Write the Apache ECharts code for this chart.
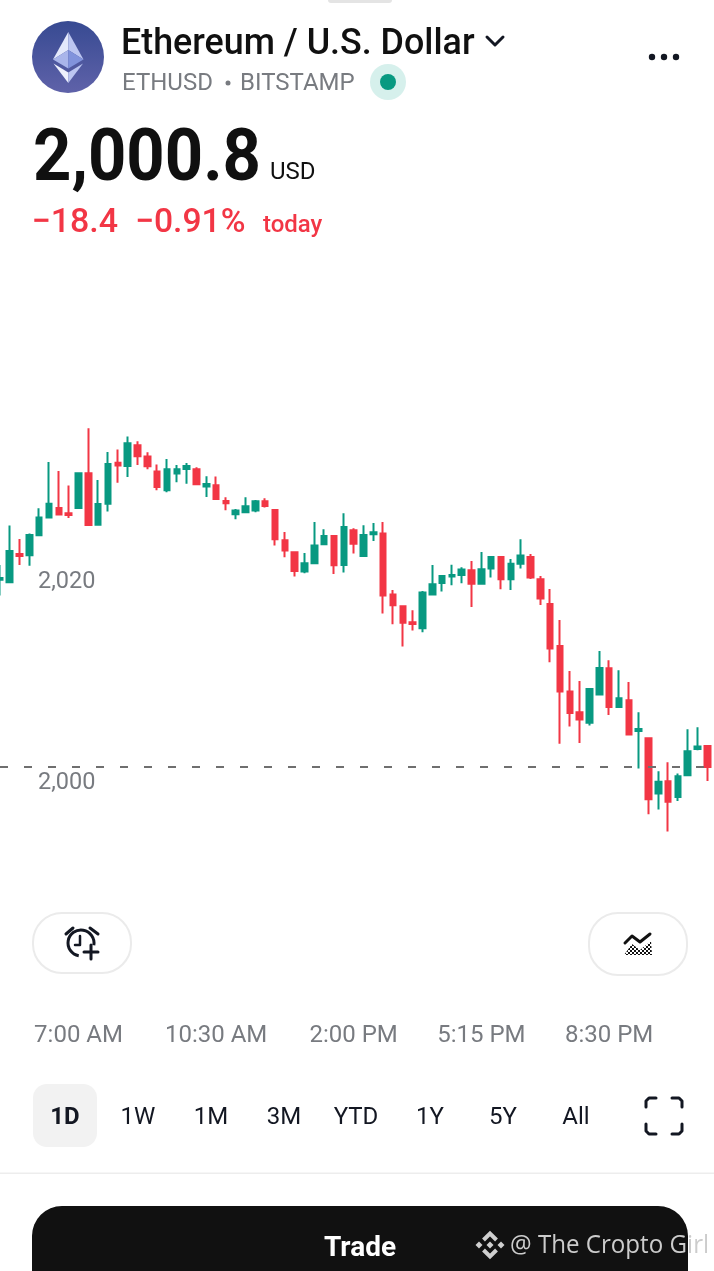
<!DOCTYPE html>
<html>
<head>
<meta charset="utf-8">
<style>html,body{margin:0;padding:0;background:#fff}#c{width:714px;height:1271px}</style>
<script src="https://cdn.jsdelivr.net/npm/echarts@6/dist/echarts.min.js"></script>
</head>
<body>
<div id="c"></div>
<script>
const times = ["5:00 AM","5:15 AM","5:30 AM","5:45 AM","6:00 AM","6:15 AM","6:30 AM","6:45 AM","7:00 AM","7:15 AM","7:30 AM","7:45 AM","8:00 AM","8:15 AM","8:30 AM","8:45 AM","9:00 AM","9:15 AM","9:30 AM","9:45 AM","10:00 AM","10:15 AM","10:30 AM","10:45 AM","11:00 AM","11:15 AM","11:30 AM","11:45 AM","12:00 PM","12:15 PM","12:30 PM","12:45 PM","1:00 PM","1:15 PM","1:30 PM","1:45 PM","2:00 PM","2:15 PM","2:30 PM","2:45 PM","3:00 PM","3:15 PM","3:30 PM","3:45 PM","4:00 PM","4:15 PM","4:30 PM","4:45 PM","5:00 PM","5:15 PM","5:30 PM","5:45 PM","6:00 PM","6:15 PM","6:30 PM","6:45 PM","7:00 PM","7:15 PM","7:30 PM","7:45 PM","8:00 PM","8:15 PM","8:30 PM","8:45 PM","9:00 PM","9:15 PM","9:30 PM","9:45 PM","10:00 PM","10:15 PM","10:30 PM","10:45 PM","11:00 PM"];
const opens = [2019.44,2019.18,2022.00,2021.86,2023.85,2025.61,2026.57,2026.04,2026.57,2030.02,2024.91,2027.00,2031.08,2030.75,2032.81,2031.68,2030.19,2028.33,2029.99,2030.45,2030.42,2028.70,2028.83,2027.27,2025.94,2026.14,2026.31,2027.24,2026.37,2023.36,2022.16,2020.24,2021.07,2022.96,2023.79,2020.90,2024.35,2021.80,2023.95,2024.02,2017.95,2016.79,2015.20,2014.60,2017.95,2019.11,2019.74,2019.91,2020.37,2019.04,2020.54,2021.70,2019.48,2021.03,2021.70,2019.48,2017.02,2012.84,2008.30,2006.24,2005.21,2008.00,2010.62,2006.77,2007.44,2004.38,2003.65,1998.15,1999.38,1997.82,1999.97,2002.59,2002.89];
const closes = [2019.61,2022.29,2021.80,2023.89,2025.61,2027.00,2025.91,2025.88,2030.02,2024.88,2026.97,2030.95,2030.79,2033.01,2031.71,2030.72,2028.66,2030.42,2030.42,2030.75,2028.93,2028.96,2027.47,2027.04,2026.31,2026.74,2027.24,2026.77,2023.46,2022.33,2020.30,2021.07,2022.83,2023.79,2020.87,2024.68,2023.02,2023.89,2024.15,2017.85,2016.89,2015.16,2015.03,2018.15,2018.98,2019.81,2019.91,2020.44,2019.04,2020.47,2021.70,2019.48,2021.03,2021.83,2019.64,2017.55,2012.58,2008.30,2006.18,2005.51,2008.56,2010.65,2006.77,2007.63,2004.02,2004.58,1997.58,1999.34,1997.35,1999.87,2002.36,2002.83,2000.80];
const lows = [2017.85,2019.18,2020.90,2020.83,2023.85,2025.61,2025.88,2025.58,2026.57,2024.82,2024.91,2026.21,2029.09,2029.66,2030.85,2030.42,2028.33,2028.13,2029.13,2028.99,2028.93,2027.67,2027.47,2026.34,2025.45,2026.14,2026.14,2026.61,2022.83,2021.66,2019.74,2020.07,2021.07,2022.96,2020.01,2020.14,2022.03,2021.80,2023.29,2016.06,2015.00,2012.78,2014.37,2014.20,2017.95,2018.25,2018.88,2019.08,2016.72,2019.04,2019.64,2018.48,2018.41,2020.54,2019.51,2016.92,2011.22,2003.12,2004.82,2003.19,2004.92,2008.00,2005.98,2006.74,2004.02,2000.64,1996.09,1996.56,1994.37,1997.42,1999.97,2002.46,1999.41];
const highs = [2020.90,2024.82,2023.49,2024.02,2026.54,2031.15,2030.26,2028.80,2030.02,2034.50,2029.36,2032.15,2032.38,2033.67,2033.21,2032.11,2030.89,2031.45,2030.85,2031.05,2030.62,2029.72,2029.69,2027.63,2026.47,2027.64,2027.37,2027.54,2026.37,2024.19,2022.16,2022.10,2025.18,2024.45,2023.79,2026.04,2024.55,2024.85,2025.08,2025.18,2018.41,2016.79,2016.39,2018.31,2020.90,2019.81,2020.93,2020.67,2021.30,2022.20,2021.70,2021.70,2021.50,2023.46,2022.00,2019.81,2018.51,2015.43,2010.36,2009.36,2008.56,2012.35,2011.42,2010.42,2009.26,2006.24,2003.65,2000.37,2001.27,2000.14,2004.55,2004.75,2002.99];
const lastPrice = 2000.8;
const xTickLabels = ["7:00 AM","10:30 AM","2:00 PM","5:15 PM","8:30 PM"];
const yTickLabels = ["2,000","2,020"];
const rangeLabels = ["1D","1W","1M","3M","YTD","1Y","5Y","All"];
const rangeCenters = [65,138,211,284,356,430,503,576];

const FONT = 'Roboto, "Noto Sans", sans-serif';
const INK = '#131722', RED = '#f23645', GREEN = '#089981', GREY = '#787b80';
const txt = (text, x, y, size, weight, fill, align, family, scaleX) => ({
  type:'text', x, y:y+size*0.1, silent:true, scaleX:scaleX||1,
  style:{text, fill, textAlign:align||'left', textVerticalAlign:'middle', font:`${weight} ${size}px ${family||FONT}`}
});
const poly = (points, fill) => ({type:'polygon', silent:true, shape:{points}, style:{fill}});
const stroke = (points, color, w, join) => ({type:'polyline', silent:true, shape:{points}, style:{stroke:color, lineWidth:w, fill:null, lineCap:join?'butt':'round', lineJoin:join||'round'}});
const pill = (x,y,w,h,r,fill,strokeColor) => ({type:'rect', silent:true, shape:{x,y,width:w,height:h,r}, style:{fill:fill||'#fff', stroke:strokeColor||null, lineWidth:strokeColor?2:0}});
const circle = (cx,cy,r,fill) => ({type:'circle', silent:true, shape:{cx,cy,r}, style:{fill}});
const diamond = (cx,cy,r,fill) => poly([[cx,cy-r],[cx+r,cy],[cx,cy+r],[cx-r,cy]], fill);

const checker = document.createElement('canvas');
checker.width = checker.height = 4;
const cctx = checker.getContext('2d');
cctx.fillStyle = '#ffffff'; cctx.fillRect(0,0,4,4);
cctx.fillStyle = '#111111'; cctx.fillRect(0,0,2,2); cctx.fillRect(2,2,2,2);

const ui = [
  pill(328,-6,64,9,3,'#e4e4e4'),
  {type:'circle', silent:true, shape:{cx:68,cy:57,r:36}, style:{fill:new echarts.graphic.LinearGradient(0,0,0,1,[{offset:0,color:'#374a92'},{offset:1,color:'#5f62a9'}])}},
  poly([[68.3,32],[53,59.5],[68.3,50]], '#e4e9fb'),
  poly([[68.3,32],[83.5,59.5],[68.3,50]], '#bcc6f1'),
  poly([[53,59.5],[68.3,50],[68.3,68.5]], '#a9b5ea'),
  poly([[83.5,59.5],[68.3,50],[68.3,68.5]], '#8193dc'),
  poly([[53.5,63.5],[68.3,72.5],[68.3,83]], '#eef1fd'),
  poly([[83,63.5],[68.3,72.5],[68.3,83]], '#bcc6f1'),
  txt('Ethereum / U.S. Dollar',121,41,36,500,'#101010',null,null,0.995),
  stroke([[487,37],[495,45],[503,37]],INK,3),
  txt('ETHUSD',122,82,24,400,GREY),
  circle(228,83,2.5,GREY),
  txt('BITSTAMP',240,82,24,400,GREY),
  circle(388,82,18,'#d6f0ec'),
  circle(388,82,8,GREEN),
  circle(652,57,3.2,INK), circle(664,57,3.2,INK), circle(676,57,3.2,INK),
  txt('2,000.8',33,155,72,700,'#101010',null,null,0.93),
  txt('USD',270,171,24,400,'#101010'),
  txt('\u221218.4',31.5,220,34,500,RED),
  txt('\u22120.91%',135,220,34,500,RED,null,null,0.99),
  txt('today',263,224,24,500,RED),
  pill(33,913,98,60,29,'#fff','#ebebeb'),
  pill(589,913,98,62,29,'#fff','#ebebeb'),
  {type:'arc', silent:true, shape:{cx:81,cy:943,r:13,startAngle:100*Math.PI/180,endAngle:370*Math.PI/180,clockwise:true}, style:{stroke:INK,lineWidth:3,fill:null}},
  stroke([[66,934],[73,928]],INK,3),
  stroke([[90,928],[98,934]],INK,3),
  stroke([[80,936],[80,945],[75,945]],INK,2.5),
  stroke([[84,952],[98,952]],INK,3),
  stroke([[91,945],[91,959]],INK,3),
  {type:'polygon', silent:true, shape:{points:[[624,955],[632,944],[640,950],[651,941],[652,955]]}, style:{fill:{image:checker,repeat:'repeat'}}},
  stroke([[625,943],[632,936],[640,942],[650,934]],'#111111',3),
  pill(33,1084,64,63,14,'#f2f2f2'),
  stroke([[646,1107],[646,1101],[649,1098],[656,1098]],INK,3),
  stroke([[672,1098],[679,1098],[682,1101],[682,1107]],INK,3),
  stroke([[646,1124],[646,1131],[649,1134],[656,1134]],INK,3),
  stroke([[672,1134],[679,1134],[682,1131],[682,1124]],INK,3),
  {type:'rect', silent:true, shape:{x:0,y:1172.5,width:714,height:1.5}, style:{fill:'#ededed'}},
  pill(32,1206,656,100,30,'#111111'),
  txt('Trade',360,1246,28,700,'#ffffff','center'),
  stroke([[483.5,1240],[490,1233.5],[496.5,1240]],'#cfcfcf',4,'miter'),
  stroke([[483.5,1250],[490,1256.5],[496.5,1250]],'#cfcfcf',4,'miter'),
  diamond(479,1245,3.5,'#cfcfcf'), diamond(501,1245,3.5,'#cfcfcf'),
  diamond(490,1245,3.5,'#cfcfcf'),
  txt('@ The Cropto Girl',510,1243.5,25,400,'#cccccc',null,'"Open Sans", "Noto Sans", sans-serif',0.965)
];
rangeLabels.forEach((t,i)=>ui.push(txt(t,rangeCenters[i],1116,24,i===0?700:400,INK,'center')));

const chart = echarts.init(document.getElementById('c'), null, {width:714,height:1271});
chart.setOption({
  animation:false,
  backgroundColor:'#ffffff',
  grid:{left:-5,top:172,width:717.3,height:804,containLabel:false,outerBoundsMode:'none'},
  xAxis:{
    type:'category', data:times, boundaryGap:true,
    axisLine:{show:false}, axisTick:{show:false}, splitLine:{show:false},
    axisLabel:{
      interval:(i,v)=>xTickLabels.includes(v),
      margin:48, color:GREY, fontSize:24, fontFamily:FONT
    }
  },
  yAxis:{
    type:'value', min:1980, max:2060, interval:20,
    axisLine:{show:false}, axisTick:{show:false}, splitLine:{show:false},
    axisLabel:{
      inside:true, margin:43, color:GREY, fontSize:23.5, fontFamily:FONT,
      verticalAlign:'top', lineHeight:16,
      formatter:v=>{const s=echarts.format.addCommas(v);return yTickLabels.includes(s)?s:'';}
    }
  },
  series:[{
    type:'candlestick',
    data:opens.map((o,i)=>[o,closes[i],lows[i],highs[i]]),
    barWidth:6,
    itemStyle:{color:GREEN,color0:RED,borderColor:GREEN,borderColor0:RED,borderWidth:2},
    silent:true,
    markLine:{
      silent:true, symbol:'none', animation:false,
      label:{show:false},
      lineStyle:{color:'#6f6f6f',width:2,type:[8,16],dashOffset:19},
      data:[{yAxis:lastPrice}]
    }
  }],
  graphic:ui
});
</script>
</body>
</html>
